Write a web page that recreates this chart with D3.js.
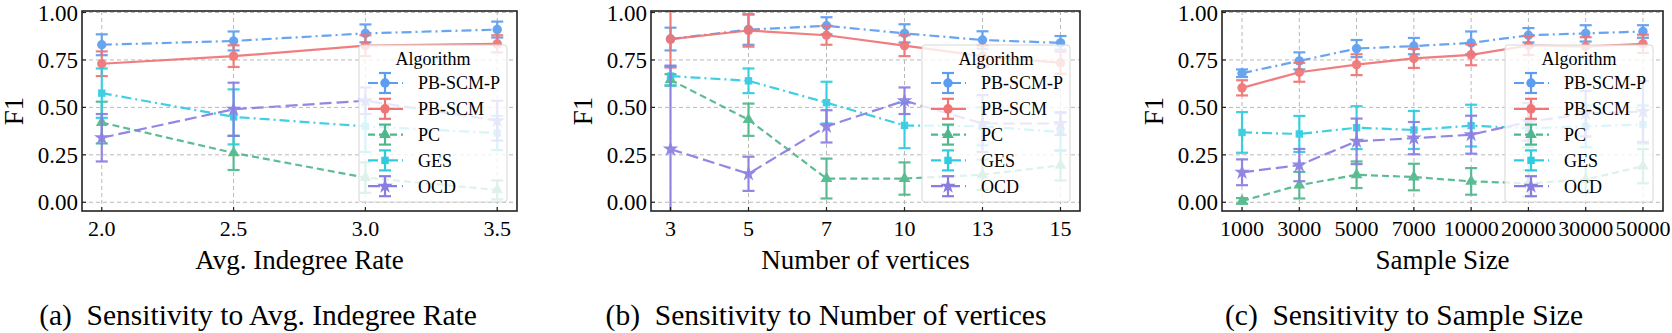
<!DOCTYPE html>
<html>
<head>
<meta charset="utf-8">
<script src="https://cdn.jsdelivr.net/npm/d3@7"></script>
<style>
  body { margin: 0; background: #fff; }
  svg text { font-family: "Liberation Serif", "DejaVu Serif", serif; }
</style>
</head>
<body>
<script>
// algorithms in legend order
var algorithms = ["PB-SCM-P", "PB-SCM", "PC", "GES", "OCD"];
var colors = ["#5b9df0", "#f07474", "#4fb78b", "#2fcbe0", "#8a7de2"];

// (a) avg. indegree rate
var degreeTicks = ["2.0", "2.5", "3.0", "3.5"];
var degreeMean = [
  [0.83, 0.85, 0.89, 0.91],
  [0.73, 0.77, 0.825, 0.835],
  [0.42, 0.26, 0.13, 0.065],
  [0.575, 0.45, 0.40, 0.365],
  [0.34, 0.49, 0.535, 0.43]
];
var degreeErr = [
  [0.055, 0.05, 0.047, 0.042],
  [0.065, 0.057, 0.055, 0.045],
  [0.11, 0.09, 0.08, 0.05],
  [0.13, 0.145, 0.135, 0.09],
  [0.125, 0.14, 0.07, 0.105]
];

// (b) number of vertices
var vertexTicks = ["3", "5", "7", "10", "13", "15"];
var vertexMean = [
  [0.86, 0.91, 0.93, 0.89, 0.855, 0.84],
  [0.86, 0.905, 0.88, 0.825, 0.77, 0.735],
  [0.645, 0.435, 0.125, 0.125, 0.145, 0.195],
  [0.665, 0.64, 0.525, 0.405, 0.40, 0.37],
  [0.28, 0.15, 0.40, 0.535, 0.415, 0.415]
];
var vertexErr = [
  [0.06, 0.08, 0.045, 0.048, 0.046, 0.036],
  [0.15, 0.085, 0.05, 0.055, 0.055, 0.058],
  [0.03, 0.085, 0.105, 0.085, 0.08, 0.08],
  [0.05, 0.065, 0.11, 0.12, 0.1, 0.1],
  [0.44, 0.09, 0.085, 0.07, 0.15, 0.06]
];

// (c) sample size
var sampleTicks = ["1000", "3000", "5000", "7000", "10000", "20000", "30000", "50000"];
var sampleMean = [
  [0.68, 0.745, 0.81, 0.823, 0.84, 0.88, 0.89, 0.90],
  [0.603, 0.685, 0.725, 0.758, 0.777, 0.826, 0.82, 0.835],
  [0.007, 0.09, 0.145, 0.133, 0.11, 0.1, 0.12, 0.19],
  [0.368, 0.36, 0.393, 0.381, 0.404, 0.39, 0.40, 0.41],
  [0.158, 0.196, 0.321, 0.338, 0.356, 0.424, 0.467, 0.478]
];
var sampleErr = [
  [0.02, 0.045, 0.045, 0.043, 0.06, 0.038, 0.043, 0.033],
  [0.04, 0.05, 0.055, 0.05, 0.055, 0.05, 0.05, 0.048],
  [0.015, 0.07, 0.07, 0.07, 0.07, 0.07, 0.07, 0.09],
  [0.107, 0.095, 0.113, 0.1, 0.11, 0.1, 0.11, 0.1],
  [0.068, 0.085, 0.12, 0.085, 0.1, 0.1, 0.12, 0.16]
];

var yTicks = [0, 0.25, 0.5, 0.75, 1.0];

// line style + marker per algorithm
var dashes = ["10,4,2,4", null, "7,4", "10,4,2,4", "12,5"];
var symbols = [d3.symbolCircle, d3.symbolCircle, d3.symbolTriangle, d3.symbolSquare, d3.symbolStar];
var symSize = [70, 70, 60, 55, 75];

var width = 1672, height = 333;
var plotTop = 11, plotBottom = 211;

var panels = [
  { left: 82, right: 517, ticks: degreeTicks, mean: degreeMean, err: degreeErr,
    xlabel: "Avg. Indegree Rate", caption: "(a)\u2002Sensitivity to Avg. Indegree Rate", capX: 258 },
  { left: 651, right: 1080, ticks: vertexTicks, mean: vertexMean, err: vertexErr,
    xlabel: "Number of vertices", caption: "(b)\u2002Sensitivity to Number of vertices", capX: 826 },
  { left: 1222, right: 1663, ticks: sampleTicks, mean: sampleMean, err: sampleErr,
    xlabel: "Sample Size", caption: "(c)\u2002Sensitivity to Sample Size", capX: 1404 }
];

var svg = d3.select("body").append("svg")
  .attr("width", width)
  .attr("height", height)
  .style("display", "block");

var y = d3.scaleLinear().domain([-0.046, 1.0]).range([plotBottom, 12.5]);

panels.forEach(function (p, pi) {
  var n = p.ticks.length;
  var pad = 0.05 * (n - 1);
  var x = d3.scaleLinear().domain([-pad, n - 1 + pad]).range([p.left, p.right]);

  var g = svg.append("g");

  // clip to the axes box
  var clipId = "clip" + pi;
  svg.append("clipPath").attr("id", clipId)
    .append("rect")
    .attr("x", p.left).attr("y", plotTop)
    .attr("width", p.right - p.left).attr("height", plotBottom - plotTop);

  // grid
  g.append("g").selectAll("line")
    .data(yTicks).join("line")
    .attr("x1", p.left).attr("x2", p.right)
    .attr("y1", d => y(d)).attr("y2", d => y(d))
    .attr("stroke", "#b8b8b8").attr("stroke-width", 1)
    .attr("stroke-dasharray", "4,3");
  g.append("g").selectAll("line")
    .data(d3.range(n)).join("line")
    .attr("x1", d => x(d)).attr("x2", d => x(d))
    .attr("y1", plotTop).attr("y2", plotBottom)
    .attr("stroke", "#b8b8b8").attr("stroke-width", 1)
    .attr("stroke-dasharray", "4,3");

  // series
  var plot = g.append("g").attr("clip-path", "url(#" + clipId + ")");
  algorithms.forEach(function (name, si) {
    var c = colors[si];
    var pts = p.mean[si].map((v, i) => ({ i: i, v: v, e: p.err[si][i] }));
    var sg = plot.append("g").attr("opacity", 0.92);

    // error bars
    var eb = sg.append("g").selectAll("g").data(pts).join("g");
    eb.append("line")
      .attr("x1", d => x(d.i)).attr("x2", d => x(d.i))
      .attr("y1", d => y(d.v - d.e)).attr("y2", d => y(d.v + d.e))
      .attr("stroke", c).attr("stroke-width", 2.2);
    eb.append("line")
      .attr("x1", d => x(d.i) - 6).attr("x2", d => x(d.i) + 6)
      .attr("y1", d => y(d.v - d.e)).attr("y2", d => y(d.v - d.e))
      .attr("stroke", c).attr("stroke-width", 2.2);
    eb.append("line")
      .attr("x1", d => x(d.i) - 6).attr("x2", d => x(d.i) + 6)
      .attr("y1", d => y(d.v + d.e)).attr("y2", d => y(d.v + d.e))
      .attr("stroke", c).attr("stroke-width", 2.2);

    // line
    sg.append("path")
      .datum(pts)
      .attr("fill", "none")
      .attr("stroke", c)
      .attr("stroke-width", 2.2)
      .attr("stroke-dasharray", dashes[si])
      .attr("d", d3.line().x(d => x(d.i)).y(d => y(d.v)));

    // markers
    sg.append("g").selectAll("path")
      .data(pts).join("path")
      .attr("transform", d => `translate(${x(d.i)},${y(d.v)})`)
      .attr("d", d3.symbol().type(symbols[si]).size(symSize[si]))
      .attr("fill", c);
  });

  // legend (lower right, translucent)
  var lw = 148, lh = 157;
  var lx = p.right - 10 - lw, ly = plotBottom - 9 - lh;
  var leg = g.append("g");
  leg.append("rect")
    .attr("x", lx).attr("y", ly).attr("width", lw).attr("height", lh)
    .attr("rx", 3)
    .attr("fill", "#fff").attr("fill-opacity", 0.8)
    .attr("stroke", "#d6d6d6").attr("stroke-width", 1);
  leg.append("text")
    .attr("x", lx + 74).attr("y", ly + 14)
    .attr("dy", "0.35em")
    .attr("text-anchor", "middle")
    .attr("font-size", 18)
    .text("Algorithm");
  algorithms.forEach(function (name, si) {
    var ey = ly + 38 + si * 25.8;
    var c = colors[si];
    var mx = lx + 26;
    leg.append("line")
      .attr("x1", lx + 9).attr("x2", lx + 44)
      .attr("y1", ey).attr("y2", ey)
      .attr("stroke", c).attr("stroke-width", 2.2)
      .attr("stroke-dasharray", dashes[si]);
    leg.append("line")
      .attr("x1", mx).attr("x2", mx).attr("y1", ey - 10).attr("y2", ey + 10)
      .attr("stroke", c).attr("stroke-width", 2.2);
    [ey - 10, ey + 10].forEach(function (cy) {
      leg.append("line")
        .attr("x1", mx - 6).attr("x2", mx + 6).attr("y1", cy).attr("y2", cy)
        .attr("stroke", c).attr("stroke-width", 2.2);
    });
    leg.append("path")
      .attr("transform", `translate(${mx},${ey})`)
      .attr("d", d3.symbol().type(symbols[si]).size(symSize[si]))
      .attr("fill", c);
    leg.append("text")
      .attr("x", lx + 59).attr("y", ey)
      .attr("dy", "0.35em")
      .attr("font-size", 18)
      .text(name);
  });

  // frame
  g.append("rect")
    .attr("x", p.left).attr("y", plotTop)
    .attr("width", p.right - p.left).attr("height", plotBottom - plotTop)
    .attr("fill", "none").attr("stroke", "#222").attr("stroke-width", 1.6);

  // inward ticks
  g.append("g").selectAll("line")
    .data(yTicks).join("line")
    .attr("x1", p.left).attr("x2", p.left + 4)
    .attr("y1", d => y(d)).attr("y2", d => y(d))
    .attr("stroke", "#222").attr("stroke-width", 1.2);
  g.append("g").selectAll("line")
    .data(d3.range(n)).join("line")
    .attr("x1", d => x(d)).attr("x2", d => x(d))
    .attr("y1", plotBottom).attr("y2", plotBottom - 4)
    .attr("stroke", "#222").attr("stroke-width", 1.2);

  // tick labels
  g.append("g").selectAll("text")
    .data(yTicks).join("text")
    .attr("x", p.left - 4).attr("y", d => y(d))
    .attr("dy", "0.35em")
    .attr("text-anchor", "end")
    .attr("font-size", 23)
    .text(d => d3.format(".2f")(d));
  g.append("g").selectAll("text")
    .data(p.ticks).join("text")
    .attr("x", (d, i) => x(i)).attr("y", 236)
    .attr("text-anchor", "middle")
    .attr("font-size", 22)
    .text(d => d);

  // axis labels
  g.append("text")
    .attr("transform", `translate(${p.left - 68},${(plotTop + plotBottom) / 2}) rotate(-90)`)
    .attr("dy", "0.35em")
    .attr("text-anchor", "middle")
    .attr("font-size", 27)
    .text("F1");
  g.append("text")
    .attr("x", (p.left + p.right) / 2).attr("y", 269)
    .attr("text-anchor", "middle")
    .attr("font-size", 27)
    .text(p.xlabel);

  // caption
  g.append("text")
    .attr("x", p.capX).attr("y", 325)
    .attr("text-anchor", "middle")
    .attr("font-size", 29.5)
    .text(p.caption);
});
</script>
</body>
</html>
